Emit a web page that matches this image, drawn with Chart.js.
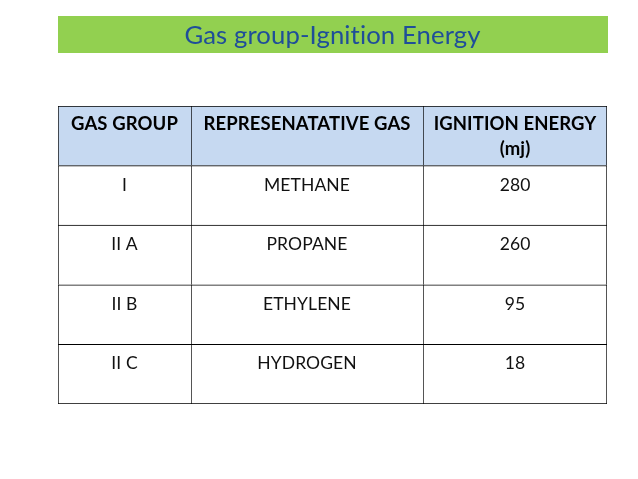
<!DOCTYPE html>
<html>
<head>
<meta charset="utf-8">
<script src="https://cdn.jsdelivr.net/npm/chart.js@4.4.0/dist/chart.umd.min.js"></script>
<style>
  html, body { margin: 0; padding: 0; background: #fff; }
</style>
</head>
<body>
<canvas id="gas__table" width="638" height="479"></canvas>
<script>
// isi tabel
const columnHeaders = [["GAS GROUP"], ["REPRESENATATIVE GAS"], ["IGNITION ENERGY", "(mj)"]]
const gasGroups = ["I", "II A", "II B", "II C"]
const gases = ["METHANE", "PROPANE", "ETHYLENE", "HYDROGEN"]
const ignitionEnergy = [280, 260, 95, 18]

// lebar kolom (layout saja)
const colWidths = [133, 232, 184]
const columns = [gasGroups, gases, ignitionEnergy]
const rowLabels = ["header", ...gasGroups]

const FONT = "Lato, 'Open Sans', sans-serif"

// kotak hijau di belakang judul
const bannerPlugin = {
  id: "banner",
  beforeDraw(chart) {
    const { ctx, chartArea, titleBlock } = chart
    ctx.save()
    ctx.fillStyle = "#92D050"
    ctx.fillRect(chartArea.left, titleBlock.top, chartArea.right - chartArea.left + 1, 37)
    ctx.restore()
    // sedikit spasi huruf supaya ligatur "ti" tidak dipakai
    ctx.letterSpacing = "0.1px"
  },
}

// teks di tiap sel
const cellTextPlugin = {
  id: "cellText",
  afterDatasetsDraw(chart) {
    const ctx = chart.ctx
    ctx.save()
    ctx.textAlign = "center"
    ctx.textBaseline = "alphabetic"
    chart.data.datasets.forEach((ds, i) => {
      const meta = chart.getDatasetMeta(i)
      meta.data.forEach((bar, r) => {
        const { x, y, base, height } = bar.getProps(["x", "y", "base", "height"], true)
        const cx = (x + base) / 2
        const top = y - height / 2
        if (r === 0) {
          ctx.fillStyle = "#000"
          ctx.font = "bold 18.5px " + FONT
          columnHeaders[i].forEach((line, k) => {
            ctx.fillText(line, cx, top + 24 + k * 25)
          })
        } else {
          ctx.fillStyle = "#111"
          ctx.font = "17.5px " + FONT
          ctx.fillText(String(columns[i][r - 1]), cx, top + 25)
        }
      })
    })
    ctx.restore()
  },
}

const datasets = colWidths.map((w, i) => ({
  label: columnHeaders[i].join(" "),
  data: rowLabels.map(() => w),
  backgroundColor: rowLabels.map((_, r) => (r === 0 ? "#C6D9F1" : "#FFFFFF")),
  borderColor: "#000",
  borderSkipped: false,
  borderWidth: (c) => ({
    top: 1,
    left: 1,
    right: c.datasetIndex === colWidths.length - 1 ? 1 : 0,
    bottom: c.dataIndex === rowLabels.length - 1 ? 1 : 0,
  }),
  barPercentage: 1,
  categoryPercentage: 1,
}))

new Chart(document.getElementById("gas__table"), {
  type: "bar",
  data: { labels: rowLabels, datasets },
  options: {
    indexAxis: "y",
    responsive: false,
    animation: false,
    devicePixelRatio: 1,
    layout: { padding: { top: 16, left: 58, right: 31, bottom: 75 } },
    scales: {
      x: { stacked: true, display: false, min: 0, max: colWidths.reduce((a, b) => a + b, 0) },
      y: { stacked: true, display: false },
    },
    plugins: {
      legend: { display: false },
      tooltip: { enabled: false },
      title: {
        display: true,
        text: "Gas group-Ignition Energy",
        color: "#1F4E99",
        font: { family: FONT, size: 25.7, weight: "normal" },
        padding: { top: 4.6, bottom: 54.56 },
      },
    },
  },
  plugins: [bannerPlugin, cellTextPlugin],
})
</script>
</body>
</html>
